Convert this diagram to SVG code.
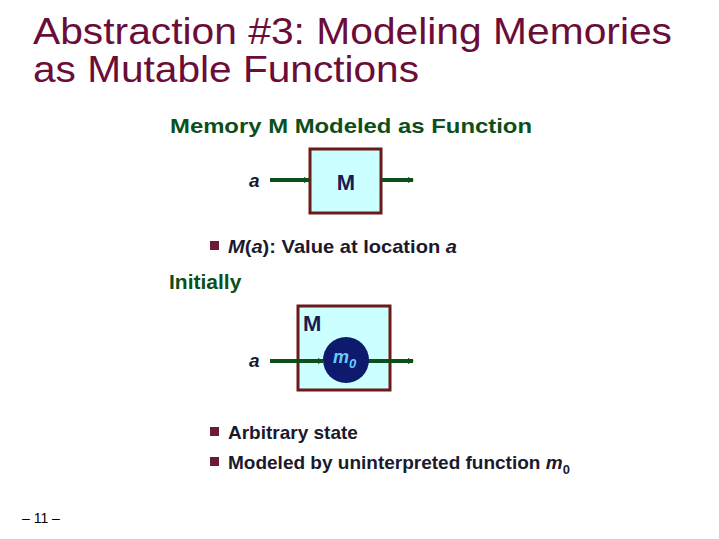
<svg xmlns="http://www.w3.org/2000/svg" width="719" height="539" viewBox="0 0 719 539">
<style>
.t{font-family:"Liberation Sans",Arial,sans-serif}
.title{font-size:37px;fill:#6b0d38}
.head{font-size:21px;fill:#0b4f1a;font-weight:bold}
.body{font-size:19px;fill:#1a1a2e;font-weight:bold}
.box{fill:#ccffff;stroke:#6b1a1a;stroke-width:3}
.wire{stroke:#0b4f1a;stroke-width:4;fill:none}
.bul{fill:#6b1a3a}
</style>
<defs><marker id="ah" markerWidth="6" markerHeight="6" refX="5" refY="3" orient="auto" markerUnits="userSpaceOnUse"><path d="M0,0L6,3L0,6z" fill="#0b4f1a"/></marker></defs>
<text class="t title" x="33" y="44" textLength="639" lengthAdjust="spacingAndGlyphs">Abstraction #3: Modeling Memories</text>
<text class="t title" x="33" y="82" textLength="386" lengthAdjust="spacingAndGlyphs">as Mutable Functions</text>
<text class="t head" x="170" y="133" textLength="362" lengthAdjust="spacingAndGlyphs">Memory M Modeled as Function</text>
<g id="m1"><rect class="box" x="310" y="149" width="71" height="64"/><text class="t" x="346" y="190" font-size="22" fill="#1a1a55" text-anchor="middle" font-weight="bold">M</text></g>
<text class="t body" x="249" y="187" font-style="italic">a</text>
<rect class="bul" x="210" y="241" width="9" height="9"/>
<text class="t body" x="228" y="253" textLength="229" lengthAdjust="spacingAndGlyphs"><tspan font-style="italic">M</tspan>(<tspan font-style="italic">a</tspan>): Value at location <tspan font-style="italic">a</tspan></text>
<text class="t head" x="169" y="289">Initially</text>
<g id="m2"><rect class="box" x="298" y="306" width="92" height="84"/><text class="t" x="303" y="331" font-size="22" fill="#1a1a55" font-weight="bold">M</text></g>
<g id="c"><path class="wire" d="M270,361H323" marker-end="url(#ah)"/><path class="wire" d="M368,361H413" marker-end="url(#ah)"/><path class="wire" d="M270,180H309" marker-end="url(#ah)"/><path class="wire" d="M382,180H413" marker-end="url(#ah)"/></g>
<g id="m0"><circle cx="346" cy="360" r="23" fill="#0d1a6e"/><text class="t" x="333" y="363" font-size="18" fill="#66ccff" font-style="italic" font-weight="bold">m<tspan font-size="13" dy="5">0</tspan></text></g>
<text class="t body" x="249" y="367" font-style="italic">a</text>
<rect class="bul" x="210" y="427" width="9" height="9"/>
<text class="t body" x="228" y="439">Arbitrary state</text>
<rect class="bul" x="210" y="457" width="9" height="9"/>
<text class="t body" x="228" y="469">Modeled by uninterpreted function <tspan font-style="italic">m</tspan><tspan font-size="13" dy="5">0</tspan></text>
<text class="t" x="22" y="523" font-size="14" fill="#000">– 11 –</text>
</svg>
